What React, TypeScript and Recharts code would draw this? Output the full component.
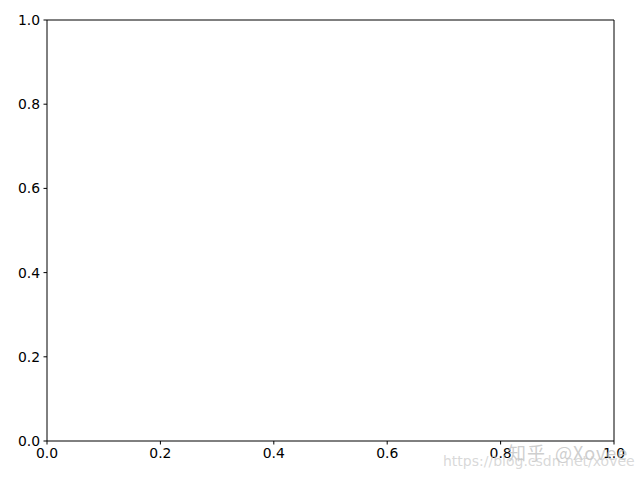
import { CartesianGrid, ReferenceLine, Scatter, ScatterChart, XAxis, YAxis } from 'recharts';

const points: { x: number; y: number }[] = [];
const xTicks = [0, 0.2, 0.4, 0.6, 0.8, 1.0];
const yTicks = [0, 0.2, 0.4, 0.6, 0.8, 1.0];
const watermark = ['知乎 @Xovee', 'https://blog.csdn.net/xovee'];

const tickStyle = { fill: '#000', fontSize: 13.9, fontFamily: 'DejaVu Sans' };

export default function App() {
  return (
    <div style={{ position: 'absolute', left: 0, top: 0, width: 640, height: 480, background: '#fff' }}>
      <ScatterChart width={640} height={480} margin={{ top: 20, right: 26, bottom: 0, left: 0 }}>
        <CartesianGrid stroke="none" fill="none" />
        <XAxis
          type="number"
          dataKey="x"
          domain={[0, 1]}
          ticks={xTicks}
          tickFormatter={(v: number) => v.toFixed(1)}
          height={39}
          tick={tickStyle}
          tickSize={3.5}
          tickMargin={3.5}
          stroke="#000"
          tickLine={{ stroke: '#000' }}
          allowDataOverflow
        />
        <YAxis
          type="number"
          dataKey="y"
          domain={[0, 1]}
          ticks={yTicks}
          tickFormatter={(v: number) => v.toFixed(1)}
          width={47}
          tick={tickStyle}
          tickSize={3.5}
          tickMargin={3.5}
          stroke="#000"
          tickLine={{ stroke: '#000' }}
          allowDataOverflow
        />
        <ReferenceLine y={1} stroke="#000" ifOverflow="extendDomain" />
        <ReferenceLine x={1} stroke="#000" ifOverflow="extendDomain" />
        <Scatter data={points} fill="#1f77b4" isAnimationActive={false} />
      </ScatterChart>
      <div
        style={{
          position: 'absolute',
          left: 508,
          top: 439,
          fontFamily: 'Noto Sans CJK SC',
          fontSize: 18,
          letterSpacing: 1,
          wordSpacing: 4,
          color: 'rgba(190,190,190,0.75)',
          whiteSpace: 'nowrap',
        }}
      >
        {watermark[0]}
      </div>
      <div
        style={{
          position: 'absolute',
          left: 443,
          top: 453,
          fontFamily: 'DejaVu Sans',
          fontSize: 14,
          color: 'rgba(200,200,200,0.7)',
          whiteSpace: 'nowrap',
        }}
      >
        {watermark[1]}
      </div>
    </div>
  );
}
